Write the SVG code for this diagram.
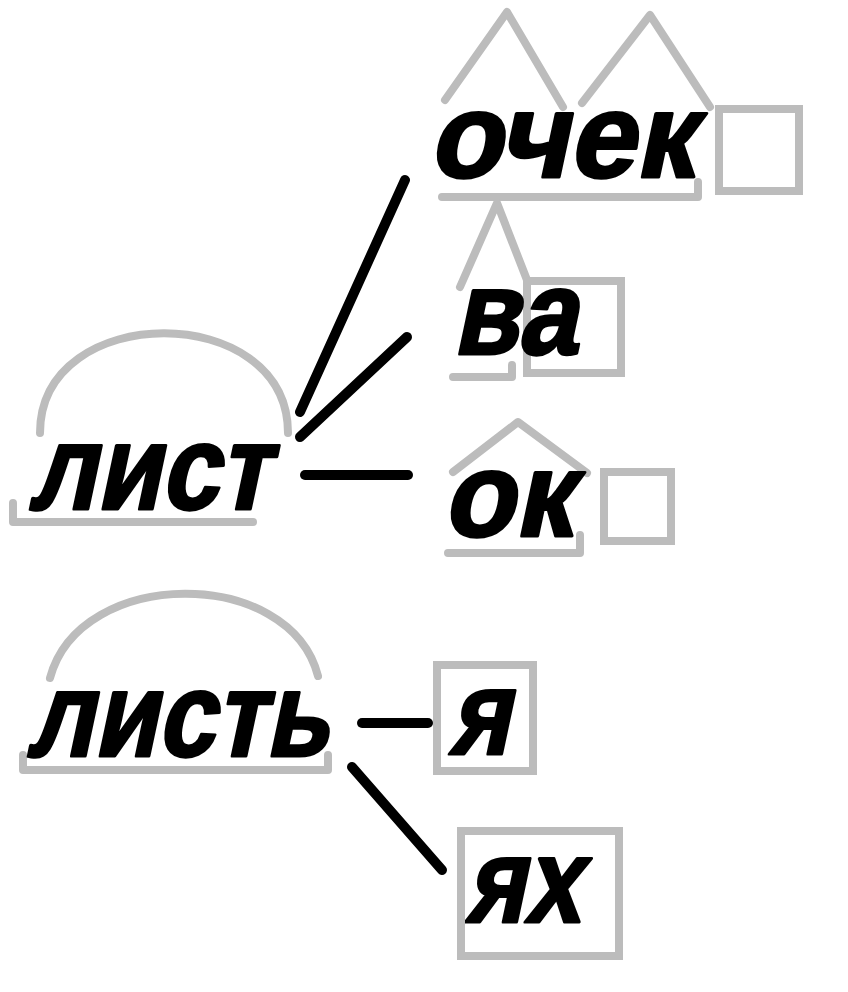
<svg xmlns="http://www.w3.org/2000/svg" width="848" height="992" viewBox="0 0 848 992">
<defs>
<style>
.g{fill:none;stroke:#bcbcbc;stroke-width:8;stroke-linecap:round;stroke-linejoin:round}
.b{fill:none;stroke:#bcbcbc;stroke-width:8}
.c{stroke:#000;stroke-width:10;stroke-linecap:round}
.t{font-family:"Liberation Sans",Arial,sans-serif;font-weight:bold;font-size:120px;fill:#000;stroke:#000;stroke-width:3;stroke-linejoin:round}
</style>
</defs>
<rect width="848" height="992" fill="#fff"/>
<g id="connectors">
<line class="c" x1="300" y1="412" x2="405" y2="180"/>
<line class="c" x1="300" y1="437" x2="407" y2="337"/>
<line class="c" x1="305" y1="475" x2="408" y2="475"/>
<line class="c" x1="362" y1="723" x2="428" y2="723"/>
<line class="c" x1="352" y1="767" x2="442" y2="870"/>
</g>
<g id="ochek">
<path class="g" d="M445,100 L507,12 L563,107"/>
<path class="g" d="M582,103 L650,15 L710,107"/>
<path class="g" d="M442,197 H698 V182"/>
<rect class="b" x="719" y="109" width="80" height="82"/>
<text class="t" transform="translate(428,177) skewX(-12)" textLength="266" lengthAdjust="spacingAndGlyphs">очек</text>
</g>
<g id="va">
<path class="g" d="M460,287 L497,203 L527,280"/>
<path class="g" d="M453,377 H512 V365"/>
<rect class="b" x="527" y="281" width="94" height="92"/>
<text class="t" transform="translate(452,354) skewX(-12)" textLength="124" lengthAdjust="spacingAndGlyphs">ва</text>
</g>
<g id="list">
<path class="g" d="M40,433 C40,300 288,300 288,433"/>
<path class="g" d="M13,503 V522 H253"/>
<text class="t" transform="translate(29,509) skewX(-12)" textLength="240" lengthAdjust="spacingAndGlyphs">лист</text>
</g>
<g id="ok">
<path class="g" d="M453,472 L518,422 L587,473"/>
<path class="g" d="M448,553 H580 V535"/>
<rect class="b" x="604" y="472" width="67" height="69"/>
<text class="t" transform="translate(442,536) skewX(-12)" textLength="130" lengthAdjust="spacingAndGlyphs">ок</text>
</g>
<g id="listy">
<path class="g" d="M50,678 C80,566 290,566 318,676"/>
<path class="g" d="M23,755 V770 H328 V755"/>
<text class="t" transform="translate(27,756) skewX(-12)" textLength="301" lengthAdjust="spacingAndGlyphs">листь</text>
</g>
<g id="ya">
<rect class="b" x="437" y="665" width="96" height="106"/>
<text class="t" transform="translate(449,754) skewX(-12)" textLength="60" lengthAdjust="spacingAndGlyphs">я</text>
</g>
<g id="yah">
<text class="t" transform="translate(465,922) skewX(-12)" textLength="115" lengthAdjust="spacingAndGlyphs">ях</text>
<rect class="b" x="461" y="831" width="158" height="125"/>
</g>
</svg>
